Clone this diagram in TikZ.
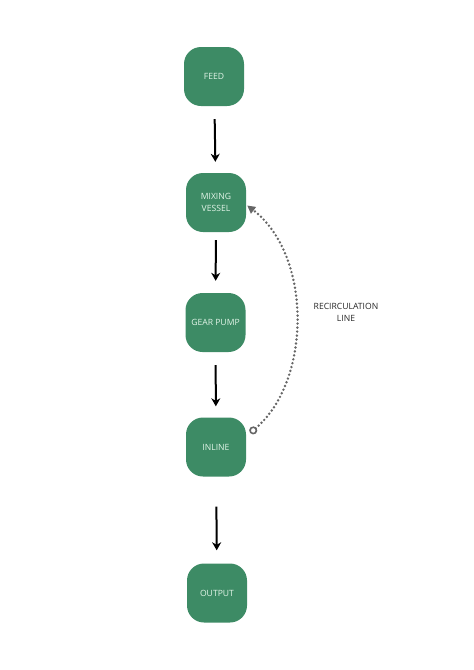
\documentclass[tikz,border=0pt]{standalone}
\usepackage{fontspec}
\setmainfont{Open Sans}
\usetikzlibrary{arrows.meta}
\definecolor{stepgreen}{HTML}{3D8B65}
\definecolor{steptext}{HTML}{E2F5E8}
\definecolor{recgray}{HTML}{666666}
\tikzset{
	stepbox/.style={fill=stepgreen, rounded corners=17pt, minimum width=60pt, minimum height=59pt,
		inner sep=1pt, align=center, text=steptext, font=\fontsize{8.6}{12}\selectfont},
	flow/.style={line width=2pt, -{Stealth[length=8pt,width=9pt,inset=2.5pt]}},
	recirc/.style={recgray, line width=2.7pt, dash pattern=on 0pt off 4pt, line cap=round,
		{Circle[open,fill=white,length=8pt,width=8pt,line width=1.6pt,sep=0pt]}-{Triangle[length=8pt,width=8pt]}}
}
\begin{document}
\begin{tikzpicture}[x=1pt,y=-1pt]
	\useasboundingbox (0,0) rectangle (474,670);

	\node[stepbox] (feed) at (214,76.5) {FEED};
	\node[stepbox] (vessel) at (216,202.5) {MIXING\\VESSEL};
	\node[stepbox] (pump) at (215.5,322.5) {GEAR PUMP};
	\node[stepbox] (inline) at (216,447) {INLINE};
	\node[stepbox] (output) at (217,593) {OUTPUT};

	\draw[flow, shorten <=13pt, shorten >=11pt] (feed) -- (vessel);
	\draw[flow, shorten <=8pt, shorten >=12pt] (vessel) -- (pump);
	\draw[flow, shorten <=13pt, shorten >=11pt] (pump) -- (inline);
	\draw[flow, shorten <=30pt, shorten >=13pt] (inline) -- (output);

	% recirculation back to the vessel
	\draw[recirc] ([xshift=4pt,yshift=14pt]inline.east) .. controls (312,380) and (312,255) .. ([xshift=1pt,yshift=-3pt]vessel.east);
	\node[align=center, font=\fontsize{8.6}{12}\selectfont, text=black!85] (reclabel) at (346,312) {RECIRCULATION\\LINE};
\end{tikzpicture}
\end{document}
